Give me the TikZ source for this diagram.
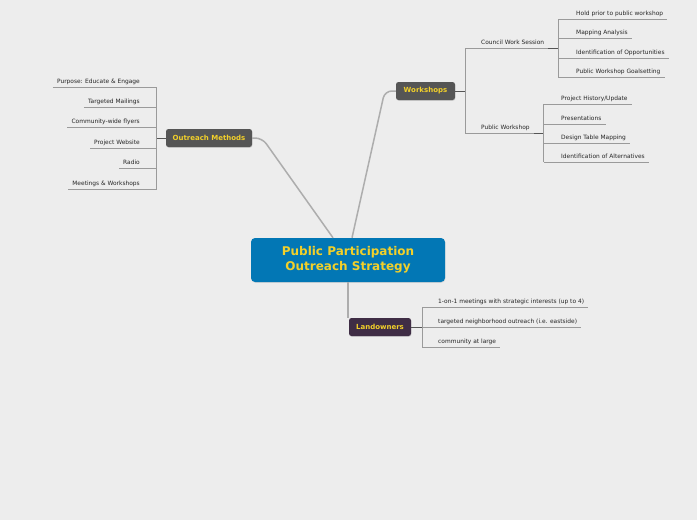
\documentclass[tikz,border=0pt]{standalone}
\usepackage{fontspec}
\setmainfont{DejaVu Sans}
\usetikzlibrary{positioning,calc,shadows}
\definecolor{bgpaper}{HTML}{EDEDED}
\definecolor{corefill}{HTML}{0277B5}
\definecolor{topicgray}{HTML}{555555}
\definecolor{topicplum}{HTML}{3F2D45}
\definecolor{labelgold}{HTML}{F2D02A}
\definecolor{branchgray}{HTML}{ADADAD}
\definecolor{twiggray}{HTML}{9A9A9A}

\begin{document}
\begin{tikzpicture}[
    x=1pt, y=-1pt,
    core/.style={rounded corners=4pt, fill=corefill, minimum width=194pt, minimum height=44pt,
        align=center, text=labelgold, font=\fontsize{12}{15}\selectfont\bfseries,
        drop shadow={shadow xshift=0.4pt, shadow yshift=-0.8pt, opacity=0.2}},
    topic/.style={rounded corners=2.5pt, minimum height=18pt, inner xsep=6pt, text=labelgold,
        font=\fontsize{7}{8}\selectfont\bfseries,
        drop shadow={shadow xshift=0.4pt, shadow yshift=-0.8pt, opacity=0.25}},
    leaf/.style={inner xsep=4pt, inner ysep=2pt, text height=4.5pt, text depth=1.5pt,
        font=\fontsize{5.9}{7}\selectfont, text=black!85},
    branch/.style={draw=branchgray, line width=1.5pt, rounded corners=7pt},
    stem/.style={draw=topicgray, line width=0.9pt},
    twig/.style={draw=twiggray, line width=0.7pt}
]
\useasboundingbox[fill=bgpaper] (0,0) rectangle (697,520);

% central idea and main topics
\node[core] (ctr) at (348,260) {Public Participation\\Outreach Strategy};
\node[topic, fill=topicgray, minimum width=86pt] (om) at (209,138) {Outreach Methods};
\node[topic, fill=topicgray, minimum width=59pt] (ws) at (425.5,91) {Workshops};
\node[topic, fill=topicplum, minimum width=62pt] (lo) at (380,327) {Landowners};

\draw[branch] ([xshift=-15pt]ctr.north) -- ([xshift=10pt]om.east) -- (om.east);
\draw[branch] ([xshift=4pt]ctr.north) -- ([xshift=-11pt]ws.west) -- (ws.west);
\draw[branch, line width=1.2pt] (ctr.south) -- (ctr.south |- lo.north);

% outreach methods
\node[leaf, anchor=south east] (purp) at (144,87) {Purpose: Educate \& Engage};
\node[leaf, anchor=south east] (mail) at (144,107) {Targeted Mailings};
\node[leaf, anchor=south east] (flyr) at (144,127) {Community-wide flyers};
\node[leaf, anchor=south east] (webs) at (144,148) {Project Website};
\node[leaf, anchor=south east] (radi) at (144,168) {Radio};
\node[leaf, anchor=south east] (meet) at (144,189) {Meetings \& Workshops};

\draw[stem] (om.west) -- ++(-9,0) coordinate (omT);
\draw[twig] (purp.south -| omT) -- (meet.south -| omT);
\foreach \n in {purp,mail,flyr,webs,radi,meet}
    \draw[twig] (\n.south west) -- (\n.south -| omT);

% workshops
\draw[stem] (ws.east) -- ++(10,0) coordinate (wsT);
\node[leaf, anchor=south west] (cws) at (477,48) {Council Work Session};
\node[leaf, anchor=south west] (pws) at (477,133) {Public Workshop};
\draw[twig] (cws.south -| wsT) -- (pws.south -| wsT);
\draw[twig] (cws.south -| wsT) -- (cws.south east);
\draw[twig] (pws.south -| wsT) -- (pws.south east);
\draw[stem] (cws.south east) -- ++(10,0) coordinate (cwsT);
\draw[stem] (pws.south east) -- ++(10,0) coordinate (pwsT);

\node[leaf, anchor=south west] (hold) at (572,19) {Hold prior to public workshop};
\node[leaf, anchor=south west] (mapa) at (572,38) {Mapping Analysis};
\node[leaf, anchor=south west] (iopp) at (572,58) {Identification of Opportunities};
\node[leaf, anchor=south west] (goal) at (572,77) {Public Workshop Goalsetting};
\draw[twig] (hold.south -| cwsT) -- (goal.south -| cwsT);
\foreach \n in {hold,mapa,iopp,goal}
    \draw[twig] (\n.south -| cwsT) -- (\n.south east);

\node[leaf, anchor=south west] (hist) at (557,104) {Project History/Update};
\node[leaf, anchor=south west] (pres) at (557,124) {Presentations};
\node[leaf, anchor=south west] (dtbl) at (557,143) {Design Table Mapping};
\node[leaf, anchor=south west] (ialt) at (557,162) {Identification of Alternatives};
\draw[twig] (hist.south -| pwsT) -- (ialt.south -| pwsT);
\foreach \n in {hist,pres,dtbl,ialt}
    \draw[twig] (\n.south -| pwsT) -- (\n.south east);

% landowners
\draw[stem] (lo.east) -- ++(11,0) coordinate (loT);
\node[leaf, anchor=south west] (oneo) at (434,307) {1-on-1 meetings with strategic interests (up to 4)};
\node[leaf, anchor=south west] (nbhd) at (434,327) {targeted neighborhood outreach (i.e. eastside)};
\node[leaf, anchor=south west] (larg) at (434,347) {community at large};
\draw[twig] (oneo.south -| loT) -- (larg.south -| loT);
\foreach \n in {oneo,nbhd,larg}
    \draw[twig] (\n.south -| loT) -- (\n.south east);
\end{tikzpicture}
\end{document}
